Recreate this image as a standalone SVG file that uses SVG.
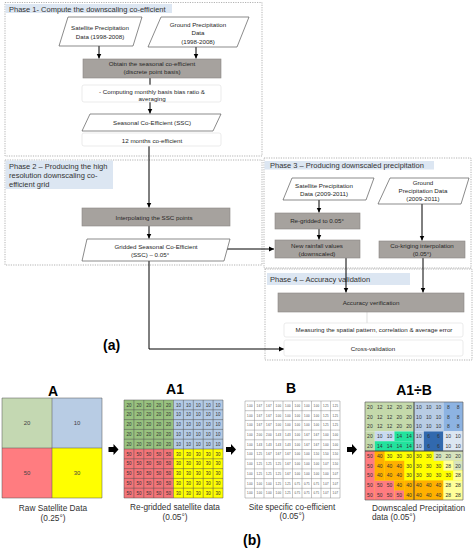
<svg xmlns="http://www.w3.org/2000/svg" width="474" height="556" viewBox="0 0 474 556">
<defs>
<marker id="ah" markerUnits="userSpaceOnUse" markerWidth="6" markerHeight="6" refX="5" refY="3" orient="auto">
<path d="M0,0.5 L5,3 L0,5.5 Z" fill="#000"/>
</marker>
<path id="blk" d="M0,-2.6 L5,-2.6 L5,-5.5 L10,0 L5,5.5 L5,2.6 L0,2.6 Z"/>
</defs>
<style>
text{font-family:"Liberation Sans",Arial,sans-serif}
.ph{fill:none;stroke:#a0a0a0;stroke-width:0.8;stroke-dasharray:1.2 1.2}
.tbg{fill:#dce6f2}
.pt{font-size:7.5px;fill:#333}
.t{font-size:6.2px;fill:#262626;text-anchor:middle}
.gb{fill:#a6a29e;stroke:#8a8682;stroke-width:0.6}
.pg{fill:#fff;stroke:#595959;stroke-width:0.7}
.nb{fill:#fff;stroke:#e2e2e2;stroke-width:0.7}
.ln{fill:none;stroke:#000;stroke-width:1}
.ttl{font-size:14px;font-weight:bold;text-anchor:middle;fill:#000}
.lb{font-size:8.3px;fill:#333;text-anchor:middle}
.c1{font-size:4.5px;fill:#333;text-anchor:middle}
.c2{font-size:2.8px;fill:#444;text-anchor:middle}
.c3{font-size:5px;fill:#333;text-anchor:middle}
.gl{fill:none;stroke:#505050;stroke-width:0.5}
.gl2{fill:none;stroke:#8a8a8a;stroke-width:0.5}
</style>
<rect width="474" height="556" fill="#fff"/>

<!-- Phase boxes -->
<g id="phase1">
<rect class="ph" x="5" y="2.5" width="257" height="153.5"/>
<rect class="tbg" x="5.5" y="4" width="166.5" height="9"/>
<text class="pt" x="9" y="11.5">Phase 1- Compute the downscaling co-efficient</text>
</g>
<g id="phase2">
<rect class="ph" x="5" y="160" width="257" height="105"/>
<rect class="tbg" x="5.5" y="160.5" width="107.5" height="28.5"/>
<text class="pt" x="9" y="169">Phase 2 – Producing the high</text>
<text class="pt" x="9" y="178">resolution downscaling co-</text>
<text class="pt" x="9" y="187">efficient grid</text>
</g>
<g id="phase3">
<rect class="ph" x="264" y="158" width="207" height="110"/>
<rect class="tbg" x="264.5" y="161" width="169.5" height="8.5"/>
<text class="pt" x="270" y="168">Phase 3 – Producing downscaled precipitation</text>
</g>
<g id="phase4">
<rect class="ph" x="265" y="269" width="207" height="91"/>
<rect class="tbg" x="267" y="273" width="143" height="12"/>
<text class="pt" x="270" y="281.5">Phase 4 – Accuracy validation</text>
</g>

<!-- Connectors -->
<g id="connectors">
<line class="ln" x1="99" y1="46" x2="99" y2="58.5" marker-end="url(#ah)"/>
<line class="ln" x1="196" y1="47" x2="196" y2="58.5" marker-end="url(#ah)"/>
<line class="ln" x1="150" y1="78" x2="150" y2="85"/>
<line class="ln" x1="150" y1="99" x2="150" y2="113.5" marker-end="url(#ah)"/>
<line class="ln" x1="149" y1="146" x2="149" y2="207.5" marker-end="url(#ah)"/>
<line class="ln" x1="149" y1="226" x2="149" y2="238.5" marker-end="url(#ah)"/>
<line class="ln" x1="226" y1="249" x2="274" y2="249" marker-end="url(#ah)"/>
<polyline class="ln" points="149,261 149,349 284,349" marker-end="url(#ah)"/>
<line class="ln" x1="319" y1="200" x2="319" y2="212.5" marker-end="url(#ah)"/>
<line class="ln" x1="319" y1="229" x2="319" y2="239.5" marker-end="url(#ah)"/>
<line class="ln" x1="346" y1="258" x2="346" y2="292.5" marker-end="url(#ah)"/>
<line class="ln" x1="422" y1="204" x2="422" y2="240.5" marker-end="url(#ah)"/>
<line class="ln" x1="423" y1="258" x2="423" y2="292.5" marker-end="url(#ah)"/>
<line x1="367" y1="312" x2="367" y2="323" stroke="#d0d0d0" stroke-width="0.7"/>
</g>

<!-- Phase 1 nodes -->
<g id="sat1">
<polygon class="pg" points="68,17 142,17 133,46 59,46"/>
<text class="t" x="100" y="30">Satellite Precipitation</text>
<text class="t" x="100" y="38.5">Data (1998-2008)</text>
</g>
<g id="gnd1">
<polygon class="pg" points="161,17 249,17 237,47 148,47"/>
<text class="t" x="198" y="27">Ground Precipitation</text>
<text class="t" x="198" y="35">Data</text>
<text class="t" x="198" y="43.5">(1998-2008)</text>
</g>
<g id="obtain">
<rect class="gb" x="83" y="59" width="138" height="19"/>
<text class="t" x="152" y="65.8">Obtain the seasonal co-efficient</text>
<text class="t" x="152" y="74">(discrete point basis)</text>
</g>
<g id="biasratio">
<rect class="nb" x="82" y="85" width="139" height="17" rx="2"/>
<text class="t" x="152" y="93.5">- Computing monthly basis bias ratio &amp;</text>
<text class="t" x="152" y="100.5">averaging</text>
</g>
<g id="ssc">
<polygon class="pg" points="90,114 221,114 213,131 82,131"/>
<text class="t" x="152" y="125">Seasonal Co-Efficient (SSC)</text>
</g>
<g id="months">
<rect class="nb" x="82" y="133" width="139" height="13" rx="2"/>
<text class="t" x="152" y="143">12 months co-efficient</text>
</g>

<!-- Phase 2 nodes -->
<g id="interp">
<rect class="gb" x="82" y="208" width="148" height="18"/>
<text class="t" x="154" y="219.5">Interpolating the SSC points</text>
</g>
<g id="gssc">
<polygon class="pg" points="87,239 230,239 224,261 82,261"/>
<text class="t" x="156" y="249">Gridded Seasonal Co-Efficient</text>
<text class="t" x="150" y="256.5">(SSC) – 0.05°</text>
</g>

<!-- Phase 3 nodes -->
<g id="sat2">
<polygon class="pg" points="292,178 374,178 366,200 283,200"/>
<text class="t" x="324" y="188">Satellite Precipitation</text>
<text class="t" x="324" y="196">Data (2009-2011)</text>
</g>
<g id="gnd2">
<polygon class="pg" points="390,178 469,178 461,204 378,204"/>
<text class="t" x="423" y="185">Ground</text>
<text class="t" x="423" y="193">Precipitation Data</text>
<text class="t" x="423" y="201">(2009-2011)</text>
</g>
<g id="regrid">
<rect class="gb" x="275" y="213" width="85" height="16"/>
<text class="t" x="317" y="223.3">Re-gridded to 0.05°</text>
</g>
<g id="newrain">
<rect class="gb" x="275" y="240" width="85" height="18"/>
<text class="t" x="317" y="247.5">New rainfall values</text>
<text class="t" x="317" y="255.5">(downscaled)</text>
</g>
<g id="cokrig">
<rect class="gb" x="379" y="241" width="86" height="17"/>
<text class="t" x="422" y="248.3">Co-kriging interpolation</text>
<text class="t" x="422" y="256">(0.05°)</text>
</g>

<!-- Phase 4 nodes -->
<g id="accuracy">
<rect class="gb" x="278" y="293" width="186" height="19"/>
<text class="t" x="371" y="304.5">Accuracy verification</text>
</g>
<g id="measure">
<rect class="nb" x="284" y="323" width="179" height="14" rx="2"/>
<text class="t" x="374" y="332.3">Measuring the spatial pattern, correlation &amp; average error</text>
</g>
<g id="crossval">
<rect class="nb" x="284" y="340" width="179" height="16" rx="2"/>
<text class="t" x="373" y="351">Cross-validation</text>
</g>
<text x="103" y="350" font-size="14" font-weight="bold" fill="#000">(a)</text>

<!-- (b) panel A -->
<g id="gridA">
<text class="ttl" x="53" y="396">A</text>
<rect x="2" y="398" width="50" height="50" fill="#c4d8b2"/>
<rect x="52" y="398" width="50" height="50" fill="#b8cce4"/>
<rect x="2" y="448" width="50" height="50" fill="#ff7c80"/>
<rect x="52" y="448" width="50" height="50" fill="#ffff00"/>
<path class="gl" d="M2,398H102V498H2Z M52,398V498 M2,448H102"/>
<text x="27" y="425" font-size="6" fill="#444" text-anchor="middle">20</text>
<text x="77" y="425" font-size="6" fill="#444" text-anchor="middle">10</text>
<text x="27" y="475" font-size="6" fill="#444" text-anchor="middle">50</text>
<text x="77" y="475" font-size="6" fill="#444" text-anchor="middle">30</text>
<text class="lb" x="53" y="511">Raw Satellite Data</text>
<text class="lb" x="53" y="520.5">(0.25°)</text>
</g>

<g id="arrows-b">
<use href="#blk" x="108.5" y="449.5"/>
<use href="#blk" x="226" y="449.5"/>
<use href="#blk" x="347" y="449.5"/>
</g>

<!-- panel A1 -->
<g id="gridA1">
<text class="ttl" x="175" y="394">A1</text>
<rect x="124" y="400" width="49.5" height="49" fill="#98c27f"/>
<rect x="173.5" y="400" width="49.5" height="49" fill="#b4cbe6"/>
<rect x="124" y="449" width="49.5" height="49" fill="#f47478"/>
<rect x="173.5" y="449" width="49.5" height="49" fill="#ffff00"/>
<path class="gl" d="M124,400H223V498H124Z M133.9,400V498 M143.8,400V498 M153.7,400V498 M163.6,400V498 M173.5,400V498 M183.4,400V498 M193.3,400V498 M203.2,400V498 M213.1,400V498 M124,409.8H223 M124,419.6H223 M124,429.4H223 M124,439.2H223 M124,449H223 M124,458.8H223 M124,468.6H223 M124,478.4H223 M124,488.2H223"/>
<text class="c1" y="406.5"><tspan x="129">20</tspan><tspan x="138.9">20</tspan><tspan x="148.8">20</tspan><tspan x="158.7">20</tspan><tspan x="168.6">20</tspan><tspan x="178.5">10</tspan><tspan x="188.4">10</tspan><tspan x="198.3">10</tspan><tspan x="208.2">10</tspan><tspan x="218.1">10</tspan></text>
<text class="c1" y="416.3"><tspan x="129">20</tspan><tspan x="138.9">20</tspan><tspan x="148.8">20</tspan><tspan x="158.7">20</tspan><tspan x="168.6">20</tspan><tspan x="178.5">10</tspan><tspan x="188.4">10</tspan><tspan x="198.3">10</tspan><tspan x="208.2">10</tspan><tspan x="218.1">10</tspan></text>
<text class="c1" y="426.1"><tspan x="129">20</tspan><tspan x="138.9">20</tspan><tspan x="148.8">20</tspan><tspan x="158.7">20</tspan><tspan x="168.6">20</tspan><tspan x="178.5">10</tspan><tspan x="188.4">10</tspan><tspan x="198.3">10</tspan><tspan x="208.2">10</tspan><tspan x="218.1">10</tspan></text>
<text class="c1" y="435.9"><tspan x="129">20</tspan><tspan x="138.9">20</tspan><tspan x="148.8">20</tspan><tspan x="158.7">20</tspan><tspan x="168.6">20</tspan><tspan x="178.5">10</tspan><tspan x="188.4">10</tspan><tspan x="198.3">10</tspan><tspan x="208.2">10</tspan><tspan x="218.1">10</tspan></text>
<text class="c1" y="445.7"><tspan x="129">20</tspan><tspan x="138.9">20</tspan><tspan x="148.8">20</tspan><tspan x="158.7">20</tspan><tspan x="168.6">20</tspan><tspan x="178.5">10</tspan><tspan x="188.4">10</tspan><tspan x="198.3">10</tspan><tspan x="208.2">10</tspan><tspan x="218.1">10</tspan></text>
<text class="c1" y="455.5"><tspan x="129">50</tspan><tspan x="138.9">50</tspan><tspan x="148.8">50</tspan><tspan x="158.7">50</tspan><tspan x="168.6">50</tspan><tspan x="178.5">30</tspan><tspan x="188.4">30</tspan><tspan x="198.3">30</tspan><tspan x="208.2">30</tspan><tspan x="218.1">30</tspan></text>
<text class="c1" y="465.3"><tspan x="129">50</tspan><tspan x="138.9">50</tspan><tspan x="148.8">50</tspan><tspan x="158.7">50</tspan><tspan x="168.6">50</tspan><tspan x="178.5">30</tspan><tspan x="188.4">30</tspan><tspan x="198.3">30</tspan><tspan x="208.2">30</tspan><tspan x="218.1">30</tspan></text>
<text class="c1" y="475.1"><tspan x="129">50</tspan><tspan x="138.9">50</tspan><tspan x="148.8">50</tspan><tspan x="158.7">50</tspan><tspan x="168.6">50</tspan><tspan x="178.5">30</tspan><tspan x="188.4">30</tspan><tspan x="198.3">30</tspan><tspan x="208.2">30</tspan><tspan x="218.1">30</tspan></text>
<text class="c1" y="484.9"><tspan x="129">50</tspan><tspan x="138.9">50</tspan><tspan x="148.8">50</tspan><tspan x="158.7">50</tspan><tspan x="168.6">50</tspan><tspan x="178.5">30</tspan><tspan x="188.4">30</tspan><tspan x="198.3">30</tspan><tspan x="208.2">30</tspan><tspan x="218.1">30</tspan></text>
<text class="c1" y="494.7"><tspan x="129">50</tspan><tspan x="138.9">50</tspan><tspan x="148.8">50</tspan><tspan x="158.7">50</tspan><tspan x="168.6">50</tspan><tspan x="178.5">30</tspan><tspan x="188.4">30</tspan><tspan x="198.3">30</tspan><tspan x="208.2">30</tspan><tspan x="218.1">30</tspan></text>
<text class="lb" x="175" y="510">Re-gridded satellite data</text>
<text class="lb" x="175" y="519.5">(0.05°)</text>
</g>

<!-- panel B -->
<g id="gridB">
<text class="ttl" x="291" y="393">B</text>
<rect x="245" y="401" width="95" height="97" fill="#fff"/>
<path class="gl2" d="M245,401H340V498H245Z M254.5,401V498 M264,401V498 M273.5,401V498 M283,401V498 M292.5,401V498 M302,401V498 M311.5,401V498 M321,401V498 M330.5,401V498 M245,410.7H340 M245,420.4H340 M245,430.1H340 M245,439.8H340 M245,449.5H340 M245,459.2H340 M245,468.9H340 M245,478.6H340 M245,488.3H340"/>
<text class="c2" y="406.9"><tspan x="249.75">1.00</tspan><tspan x="259.25">1.67</tspan><tspan x="268.75">1.67</tspan><tspan x="278.25">1.00</tspan><tspan x="287.75">1.00</tspan><tspan x="297.25">1.00</tspan><tspan x="306.75">1.00</tspan><tspan x="316.25">1.00</tspan><tspan x="325.75">1.25</tspan><tspan x="335.25">1.25</tspan></text>
<text class="c2" y="416.6"><tspan x="249.75">1.00</tspan><tspan x="259.25">1.67</tspan><tspan x="268.75">1.67</tspan><tspan x="278.25">1.00</tspan><tspan x="287.75">1.00</tspan><tspan x="297.25">1.00</tspan><tspan x="306.75">1.00</tspan><tspan x="316.25">1.00</tspan><tspan x="325.75">1.25</tspan><tspan x="335.25">1.25</tspan></text>
<text class="c2" y="426.3"><tspan x="249.75">1.00</tspan><tspan x="259.25">1.67</tspan><tspan x="268.75">1.67</tspan><tspan x="278.25">1.00</tspan><tspan x="287.75">1.00</tspan><tspan x="297.25">1.00</tspan><tspan x="306.75">1.00</tspan><tspan x="316.25">1.00</tspan><tspan x="325.75">1.25</tspan><tspan x="335.25">1.25</tspan></text>
<text class="c2" y="436"><tspan x="249.75">1.00</tspan><tspan x="259.25">2.00</tspan><tspan x="268.75">2.00</tspan><tspan x="278.25">1.43</tspan><tspan x="287.75">1.43</tspan><tspan x="297.25">1.00</tspan><tspan x="306.75">1.67</tspan><tspan x="316.25">1.67</tspan><tspan x="325.75">1.00</tspan><tspan x="335.25">1.00</tspan></text>
<text class="c2" y="445.7"><tspan x="249.75">1.00</tspan><tspan x="259.25">1.43</tspan><tspan x="268.75">1.43</tspan><tspan x="278.25">1.43</tspan><tspan x="287.75">1.43</tspan><tspan x="297.25">1.00</tspan><tspan x="306.75">1.67</tspan><tspan x="316.25">1.67</tspan><tspan x="325.75">1.00</tspan><tspan x="335.25">1.00</tspan></text>
<text class="c2" y="455.4"><tspan x="249.75">1.00</tspan><tspan x="259.25">1.25</tspan><tspan x="268.75">1.67</tspan><tspan x="278.25">1.67</tspan><tspan x="287.75">1.67</tspan><tspan x="297.25">1.00</tspan><tspan x="306.75">1.00</tspan><tspan x="316.25">1.50</tspan><tspan x="325.75">1.50</tspan><tspan x="335.25">1.50</tspan></text>
<text class="c2" y="465.1"><tspan x="249.75">1.00</tspan><tspan x="259.25">1.25</tspan><tspan x="268.75">1.25</tspan><tspan x="278.25">1.25</tspan><tspan x="287.75">1.67</tspan><tspan x="297.25">1.00</tspan><tspan x="306.75">1.00</tspan><tspan x="316.25">1.00</tspan><tspan x="325.75">1.07</tspan><tspan x="335.25">1.50</tspan></text>
<text class="c2" y="474.8"><tspan x="249.75">1.00</tspan><tspan x="259.25">1.25</tspan><tspan x="268.75">1.25</tspan><tspan x="278.25">1.25</tspan><tspan x="287.75">1.67</tspan><tspan x="297.25">1.00</tspan><tspan x="306.75">1.00</tspan><tspan x="316.25">1.00</tspan><tspan x="325.75">1.00</tspan><tspan x="335.25">1.07</tspan></text>
<text class="c2" y="484.5"><tspan x="249.75">1.00</tspan><tspan x="259.25">1.00</tspan><tspan x="268.75">1.00</tspan><tspan x="278.25">1.25</tspan><tspan x="287.75">1.25</tspan><tspan x="297.25">0.75</tspan><tspan x="306.75">0.75</tspan><tspan x="316.25">0.75</tspan><tspan x="325.75">1.07</tspan><tspan x="335.25">1.07</tspan></text>
<text class="c2" y="494.2"><tspan x="249.75">1.00</tspan><tspan x="259.25">1.00</tspan><tspan x="268.75">1.00</tspan><tspan x="278.25">1.00</tspan><tspan x="287.75">1.25</tspan><tspan x="297.25">0.75</tspan><tspan x="306.75">0.75</tspan><tspan x="316.25">0.75</tspan><tspan x="325.75">1.07</tspan><tspan x="335.25">1.07</tspan></text>
<text class="lb" x="292" y="509.5">Site specific co-efficient</text>
<text class="lb" x="292" y="519">(0.05°)</text>
</g>
<text x="243" y="545" font-size="14" font-weight="bold" fill="#000">(b)</text>

<!-- panel A1÷B -->
<g id="gridA1B">
<text class="ttl" x="414" y="395">A1÷B</text>
<rect x="365" y="402" width="49" height="29.4" fill="#c4d9ab"/>
<rect x="365" y="431.4" width="9.8" height="19.6" fill="#c4d9ab"/>
<rect x="374.8" y="431.4" width="19.6" height="9.8" fill="#c9daf0"/>
<rect x="394.4" y="431.4" width="19.6" height="9.8" fill="#22e39d"/>
<rect x="374.8" y="441.2" width="39.2" height="9.8" fill="#22e39d"/>
<rect x="414" y="402" width="29.4" height="29.4" fill="#b8cce4"/>
<rect x="414" y="431.4" width="9.8" height="19.6" fill="#b8cce4"/>
<rect x="443.4" y="402" width="19.6" height="29.4" fill="#8db3e2"/>
<rect x="423.8" y="431.4" width="19.6" height="19.6" fill="#3169ae"/>
<rect x="443.4" y="431.4" width="19.6" height="19.6" fill="#dce6f2"/>
<rect x="365" y="451" width="98" height="49" fill="#ffff00"/>
<rect x="365" y="451" width="9.8" height="49" fill="#ff7c80"/>
<rect x="374.8" y="480.4" width="19.6" height="19.6" fill="#ff7c80"/>
<rect x="394.4" y="490.2" width="9.8" height="9.8" fill="#ff7c80"/>
<rect x="374.8" y="451" width="9.8" height="29.4" fill="#ffb000"/>
<rect x="384.6" y="460.8" width="19.6" height="19.6" fill="#ffb000"/>
<rect x="394.4" y="480.4" width="9.8" height="9.8" fill="#ffb000"/>
<rect x="404.2" y="480.4" width="39.2" height="19.6" fill="#ffb000"/>
<rect x="433.6" y="451" width="29.4" height="9.8" fill="#d7e4bd"/>
<rect x="453.2" y="460.8" width="9.8" height="9.8" fill="#d7e4bd"/>
<rect x="443.4" y="460.8" width="9.8" height="9.8" fill="#ffff99"/>
<rect x="453.2" y="470.6" width="9.8" height="9.8" fill="#ffff99"/>
<rect x="443.4" y="480.4" width="19.6" height="19.6" fill="#ffff99"/>
<path d="M365,402H463V500H365Z" fill="none" stroke="#666" stroke-width="0.7"/>
<path d="M414,402V500 M365,451H463" fill="none" stroke="#404040" stroke-width="1"/>
<text class="c3" y="408.7"><tspan x="369.9">20</tspan><tspan x="379.7">12</tspan><tspan x="389.5">12</tspan><tspan x="399.3">20</tspan><tspan x="409.1">20</tspan><tspan x="418.9">10</tspan><tspan x="428.7">10</tspan><tspan x="438.5">10</tspan><tspan x="448.3">8</tspan><tspan x="458.1">8</tspan></text>
<text class="c3" y="418.5"><tspan x="369.9">20</tspan><tspan x="379.7">12</tspan><tspan x="389.5">12</tspan><tspan x="399.3">20</tspan><tspan x="409.1">20</tspan><tspan x="418.9">10</tspan><tspan x="428.7">10</tspan><tspan x="438.5">10</tspan><tspan x="448.3">8</tspan><tspan x="458.1">8</tspan></text>
<text class="c3" y="428.3"><tspan x="369.9">20</tspan><tspan x="379.7">12</tspan><tspan x="389.5">12</tspan><tspan x="399.3">20</tspan><tspan x="409.1">20</tspan><tspan x="418.9">10</tspan><tspan x="428.7">10</tspan><tspan x="438.5">10</tspan><tspan x="448.3">8</tspan><tspan x="458.1">8</tspan></text>
<text class="c3" y="438.1"><tspan x="369.9">20</tspan><tspan x="379.7">10</tspan><tspan x="389.5">10</tspan><tspan x="399.3">14</tspan><tspan x="409.1">14</tspan><tspan x="418.9">10</tspan><tspan x="428.7">6</tspan><tspan x="438.5">6</tspan><tspan x="448.3">10</tspan><tspan x="458.1">10</tspan></text>
<text class="c3" y="447.9"><tspan x="369.9">20</tspan><tspan x="379.7">14</tspan><tspan x="389.5">14</tspan><tspan x="399.3">14</tspan><tspan x="409.1">14</tspan><tspan x="418.9">10</tspan><tspan x="428.7">6</tspan><tspan x="438.5">6</tspan><tspan x="448.3">10</tspan><tspan x="458.1">10</tspan></text>
<text class="c3" y="457.7"><tspan x="369.9">50</tspan><tspan x="379.7">40</tspan><tspan x="389.5">30</tspan><tspan x="399.3">30</tspan><tspan x="409.1">30</tspan><tspan x="418.9">30</tspan><tspan x="428.7">30</tspan><tspan x="438.5">20</tspan><tspan x="448.3">20</tspan><tspan x="458.1">20</tspan></text>
<text class="c3" y="467.5"><tspan x="369.9">50</tspan><tspan x="379.7">40</tspan><tspan x="389.5">40</tspan><tspan x="399.3">40</tspan><tspan x="409.1">30</tspan><tspan x="418.9">30</tspan><tspan x="428.7">30</tspan><tspan x="438.5">30</tspan><tspan x="448.3">28</tspan><tspan x="458.1">20</tspan></text>
<text class="c3" y="477.3"><tspan x="369.9">50</tspan><tspan x="379.7">40</tspan><tspan x="389.5">40</tspan><tspan x="399.3">40</tspan><tspan x="409.1">30</tspan><tspan x="418.9">30</tspan><tspan x="428.7">30</tspan><tspan x="438.5">30</tspan><tspan x="448.3">30</tspan><tspan x="458.1">28</tspan></text>
<text class="c3" y="487.1"><tspan x="369.9">50</tspan><tspan x="379.7">50</tspan><tspan x="389.5">50</tspan><tspan x="399.3">40</tspan><tspan x="409.1">40</tspan><tspan x="418.9">40</tspan><tspan x="428.7">40</tspan><tspan x="438.5">40</tspan><tspan x="448.3">28</tspan><tspan x="458.1">28</tspan></text>
<text class="c3" y="496.9"><tspan x="369.9">50</tspan><tspan x="379.7">50</tspan><tspan x="389.5">50</tspan><tspan x="399.3">50</tspan><tspan x="409.1">40</tspan><tspan x="418.9">40</tspan><tspan x="428.7">40</tspan><tspan x="438.5">40</tspan><tspan x="448.3">28</tspan><tspan x="458.1">28</tspan></text>
<text x="372" y="510.5" font-size="8.3" fill="#333">Downscaled Precipitation</text>
<text x="372" y="520" font-size="8.3" fill="#333">data (0.05°)</text>
</g>
</svg>
